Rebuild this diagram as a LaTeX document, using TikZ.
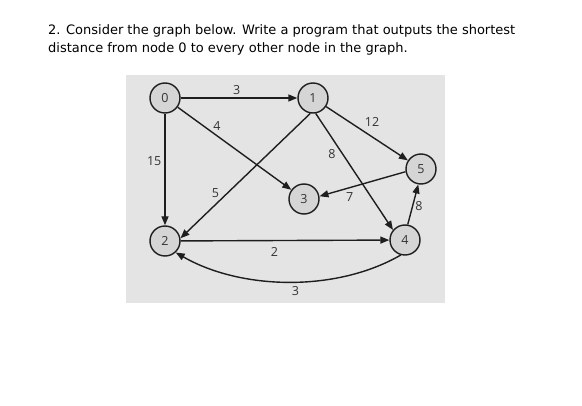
\documentclass[tikz,border=0pt]{standalone}
\usepackage{fontspec}
\setmainfont{Open Sans}
\newfontfamily\titlefont{DejaVu Sans}
\usetikzlibrary{arrows.meta}
\definecolor{panel}{HTML}{E4E4E4}
\definecolor{vfill}{HTML}{D5D5D5}
\definecolor{ink}{HTML}{1E1E1E}
\definecolor{numtext}{HTML}{333333}
\begin{document}
\begin{tikzpicture}[x=1pt, y=1pt,
    vertex/.style={circle, draw=ink, fill=vfill, line width=1.4pt, minimum size=30pt, inner sep=0pt,
      font=\fontsize{12.5}{12.5}\selectfont, text=numtext},
    wt/.style={font=\fontsize{12.5}{12.5}\selectfont, text=numtext, inner sep=1pt},
    arc/.style={draw=ink, line width=1.4pt, -{Triangle[length=9pt,width=7pt]}}]
  \useasboundingbox (0,0) rectangle (582,405);
  \fill[panel] (126,102) rectangle (445,330);
  \node[anchor=base west, align=left, inner sep=0pt, font=\titlefont\fontsize{13}{18.5}\selectfont] (task) at (48,352)
    {2. Consider the graph below. Write a program that outputs the shortest\\distance from node 0 to every other node in the graph.};
  \node[vertex] (n0) at (165,307) {0};
  \node[vertex] (n1) at (313,307) {1};
  \node[vertex] (n5) at (421,236) {5};
  \node[vertex] (n3) at (304,206) {3};
  \node[vertex] (n2) at (165,164) {2};
  \node[vertex] (n4) at (405,165) {4};
  \draw[arc] (n0) -- node[wt, pos=0.48, above=2pt] {3} (n1);
  \draw[arc] (n0) -- node[wt, pos=0.30, above right=0pt] {4} (n3);
  \draw[arc] (n0) -- node[wt, pos=0.425, left=2pt] {15} (n2);
  \draw[arc] (n1.-100) -- node[wt, pos=0.69, above left=0pt] {5} (n2.10);
  \draw[arc] (n1) -- node[wt, pos=0.43, above right=2pt] {12} (n5);
  \draw[arc] (n1.-80) -- node[wt, pos=0.29, below left=1pt] {8} (n4.140);
  \draw[arc] (n5.190) -- node[wt, pos=0.65, below=3pt] {7} (n3.10);
  \draw[arc] (n4.80) -- node[wt, pos=0.46, right=1pt] {8} (n5.-100);
  \draw[arc] (n2) -- node[wt, pos=0.45, below=5pt] {2} (n4);
  \draw[arc] (n4.-106) to[out=-150, in=-30, looseness=0.85] node[wt, pos=0.47, below=3pt] {3} (n2.-47);
\end{tikzpicture}
\end{document}
